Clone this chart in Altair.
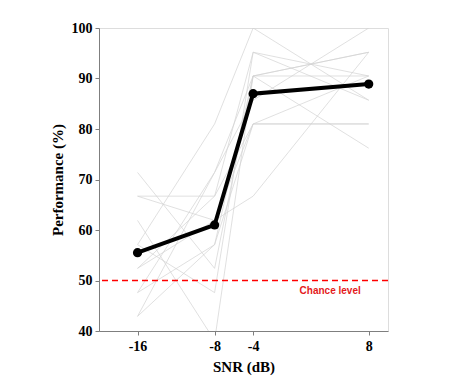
import altair as alt
import pandas as pd

snr = [-16, -8, -4, 8]
subjects = {
    "S1": [71.4, 52.4, 90.5, 95.2],
    "S2": [66.7, 66.7, 95.2, 90.5],
    "S3": [57.1, 81.0, 100.0, 85.7],
    "S4": [52.4, 61.9, 66.7, 95.2],
    "S5": [47.6, 71.4, 85.7, 100.0],
    "S6": [42.9, 57.1, 81.0, 81.0],
    "S7": [61.9, 38.1, 90.5, 76.2],
    "S8": [52.4, 66.7, 81.0, 90.5],
    "S9": [57.1, 47.6, 95.2, 85.7],
    "S10": [42.9, 71.4, 90.5, 95.2],
    "S11": [66.7, 61.9, 81.0, 81.0],
    "S12": [47.6, 57.1, 90.5, 90.5],
}
mean_perf = [55.5, 61.0, 87.0, 88.9]
chance = 50
chance_label = "Chance level"

rows = []
for s, vals in subjects.items():
    for x, v in zip(snr, vals):
        rows.append({"subject": s, "snr": x, "perf": v})
df = pd.DataFrame(rows)
mean_df = pd.DataFrame({"snr": snr, "perf": mean_perf})

xscale = alt.Scale(domain=[-20, 10], nice=False, zero=False)
yscale = alt.Scale(domain=[40, 100], nice=False, zero=False)

xaxis = alt.Axis(values=snr, title="SNR (dB)", grid=False, labelFont="Liberation Serif",
                 labelExpr="datum.value + ''",
                 labelFontWeight="bold", labelFontSize=14, labelColor="black",
                 titleFont="Liberation Serif", titleFontWeight="bold", titleFontSize=15,
                 titleColor="black", domainColor="#7f7f7f", tickColor="#7f7f7f",
                 tickSize=4, labelPadding=4, titlePadding=6)
yaxis = alt.Axis(values=[40, 50, 60, 70, 80, 90, 100], title="Performance (%)", grid=False,
                 labelFont="Liberation Serif", labelFontWeight="bold", labelFontSize=14,
                 labelColor="black", titleFont="Liberation Serif", titleFontWeight="bold",
                 titleFontSize=15, titleColor="black", domainColor="#7f7f7f",
                 tickColor="#7f7f7f", tickSize=4, labelPadding=3, titlePadding=6)

subj = alt.Chart(df).mark_line(color="#d2d2d2", strokeWidth=0.7, clip=True).encode(
    x=alt.X("snr:Q", scale=xscale, axis=xaxis),
    y=alt.Y("perf:Q", scale=yscale, axis=yaxis),
    detail="subject:N",
)

chance_df = pd.DataFrame({"y": [chance]})
chance_line = alt.Chart(chance_df).mark_rule(color="#ff0000", strokeWidth=1.6,
                                             strokeDash=[6, 4]).encode(
    y=alt.Y("y:Q", scale=yscale)
)
chance_text = alt.Chart(pd.DataFrame({"x": [4], "y": [48], "t": [chance_label]})).mark_text(
    color="#e41a1c", fontWeight="bold", fontSize=10, font="Liberation Sans",
    align="center", baseline="middle"
).encode(x=alt.X("x:Q", scale=xscale), y=alt.Y("y:Q", scale=yscale), text="t:N")

mean_line = alt.Chart(mean_df).mark_line(color="black", strokeWidth=4,
                                         point=alt.OverlayMarkDef(color="black", size=85, filled=True)).encode(
    x=alt.X("snr:Q", scale=xscale),
    y=alt.Y("perf:Q", scale=yscale),
)

chart = alt.layer(subj, chance_line, chance_text, mean_line).properties(
    width=289, height=303,
    autosize=alt.AutoSizeParams(type="none"),
    padding={"left": 91, "top": 20, "right": 10, "bottom": 45},
).configure_view(stroke=None).configure(background="white")

chart.save("out.html", embed_options={"renderer": "svg", "actions": False})
